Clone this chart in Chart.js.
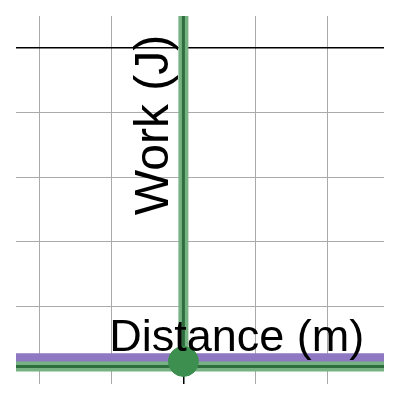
<!DOCTYPE html>
<html>
<head>
<script src="https://cdn.jsdelivr.net/npm/chart.js@4"></script>
<style>
  body { margin: 0; background: white; }
  #wrap { width: 400px; height: 400px; }
</style>
</head>
<body>
<div id="wrap"><canvas id="chart"></canvas></div>
<script>
// Data
const xRange = [-2.32, 2.78];
const yRange = [-5.21, 0.5];
const gridX = [-2, -1, 0, 1, 2];
const gridY = [0, -1, -2, -3, -4, -5];
const workLineX = [0, 0];
const workLineY = [0.6, -4.9];
const distanceLineX = [-3, 3];
const distanceLineY = [-4.94, -4.94];
const purpleLineX = [-3, 3];
const purpleLineY = [-4.81, -4.81];
const pointX = [0];
const pointY = [-4.86];
const labels = [
  { text: 'Work (J)', x: -0.4, y: -1.19, rot: -Math.PI / 2, size: 48 },
  { text: 'Distance (m)', x: 0.74, y: -4.5, rot: 0, size: 45 }
];

function pts(xs, ys) {
  return xs.map((x, i) => ({ x: x, y: ys[i] }));
}

function lineSet(xs, ys, color, width, order) {
  return {
    type: 'line', data: pts(xs, ys), borderColor: color, borderWidth: width,
    pointRadius: 0, fill: false, order: order
  };
}

// Label plugin, drawn at data coordinates
const textPlugin = {
  id: 'texts',
  afterDatasetsDraw(chart) {
    const ctx = chart.ctx;
    labels.forEach(l => {
      const px = chart.scales.x.getPixelForValue(l.x);
      const py = chart.scales.y.getPixelForValue(l.y);
      ctx.save();
      ctx.translate(px, py);
      ctx.rotate(l.rot);
      ctx.font = l.size + 'px "Liberation Sans", Arial, sans-serif';
      ctx.fillStyle = 'black';
      ctx.textAlign = 'center';
      ctx.textBaseline = 'middle';
      ctx.fillText(l.text, 0, 0);
      ctx.restore();
    });
  }
};

const gridOpts = {
  color: ctx => ctx.tick && ctx.tick.value === 0 ? '#000' : '#aaa',
  lineWidth: ctx => ctx.tick && ctx.tick.value === 0 ? 1.5 : 1,
  drawTicks: false
};

new Chart(document.getElementById('chart'), {
  type: 'scatter',
  data: {
    datasets: [
      lineSet(purpleLineX, purpleLineY, '#8f78c2', 10, 5),
      lineSet(distanceLineX, distanceLineY, '#77b283', 10, 4),
      lineSet(distanceLineX, distanceLineY, '#2e6e3e', 3, 3),
      lineSet(workLineX, workLineY, '#77b283', 10, 4),
      lineSet(workLineX, workLineY, '#2e6e3e', 3, 3),
      {
        data: pts(pointX, pointY), backgroundColor: '#3c8f4f', borderColor: '#3c8f4f',
        pointRadius: 15, order: 1
      }
    ]
  },
  options: {
    responsive: true,
    maintainAspectRatio: false,
    animation: false,
    layout: { padding: 0 },
    plugins: { legend: { display: false }, tooltip: { enabled: false } },
    scales: {
      x: {
        type: 'linear', min: xRange[0], max: xRange[1],
        afterBuildTicks: axis => { axis.ticks = gridX.map(v => ({ value: v })); },
        afterFit: axis => { axis.height = 0; },
        grid: gridOpts,
        border: { display: false },
        ticks: { display: false }
      },
      y: {
        type: 'linear', min: yRange[0], max: yRange[1],
        afterBuildTicks: axis => { axis.ticks = gridY.map(v => ({ value: v })); },
        afterFit: axis => { axis.width = 0; },
        grid: gridOpts,
        border: { display: false },
        ticks: { display: false }
      }
    }
  },
  plugins: [textPlugin]
});
</script>
</body>
</html>
